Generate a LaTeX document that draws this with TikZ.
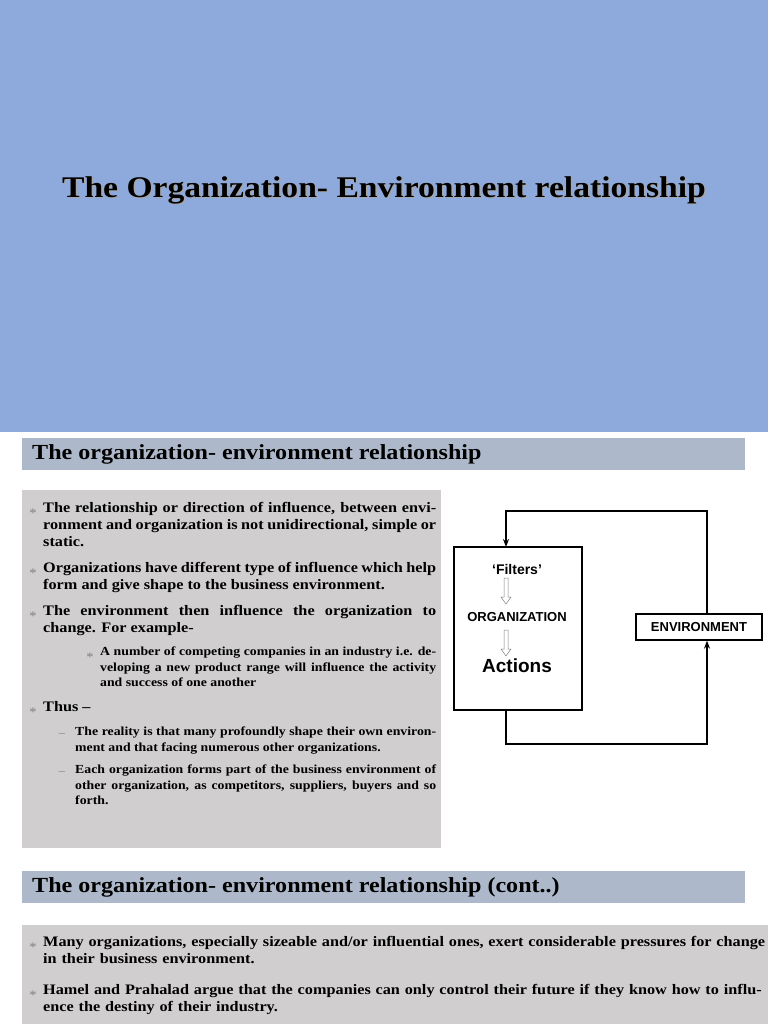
\documentclass[tikz,border=0pt]{standalone}
\usepackage{fontspec}
\setmainfont{Liberation Serif}[FakeStretch=1.12]
\setsansfont{Liberation Sans}
\usetikzlibrary{arrows.meta,shadows}
\definecolor{topblue}{HTML}{8EA9DB}
\definecolor{barblue}{HTML}{ADB9CA}
\definecolor{boxgrey}{HTML}{D0CECE}
\begin{document}
\begin{tikzpicture}[x=1pt,y=-1pt,
  txt/.style={anchor=north west,inner sep=0pt,align=justify,font=\bfseries\fontsize{14.5}{17}\selectfont},
  subtxt/.style={anchor=north west,inner sep=0pt,align=justify,font=\bfseries\fontsize{12.3}{15.5}\selectfont},
  bul/.style={inner sep=0pt,text=gray,font=\fontsize{10}{10}\selectfont},
  bartxt/.style={anchor=west,inner sep=0pt,font=\bfseries\fontsize{21.5}{24}\selectfont},
  diag/.style={draw,line width=1.3pt},
  conn/.style={line width=1.3pt},
  harrow/.style={draw=gray,fill=white,line width=0.5pt}]
\useasboundingbox (0,0) rectangle (768,1024);
\fill[white] (0,0) rectangle (768,1024);
\fill[topblue] (0,0) rectangle (768,432);
\node[inner sep=0pt,font=\bfseries\fontsize{30}{32}\selectfont,text=gray!70] at (385.5,191.5) {The Organization- Environment relationship};
\node (title) [inner sep=0pt,font=\bfseries\fontsize{30}{32}\selectfont] at (384,190) {The Organization- Environment relationship};
% bar 1
\fill[barblue] (22,438) rectangle (745,470);
\node (bar1) [bartxt] at (32,454) {The organization- environment relationship};
% grey box 1
\fill[boxgrey] (22,490) rectangle (441,848);
\node[bul] at (33,511) {\textasteriskcentered};
\node (b1) [txt,text width=393] at (43,502) {The relationship or direction of influence, between environment and organization is not unidirectional, simple or static.};
\node[bul] at (33,571) {\textasteriskcentered};
\node (b2) [txt,text width=393] at (43,562) {Organizations have different type of influence which help form and give shape to the business environment.};
\node[bul] at (33,614) {\textasteriskcentered};
\node (b3) [txt,text width=393] at (43,605) {The environment then influence the organization to change. For example-};
\node[bul] at (90,655) {\textasteriskcentered};
\node (b4) [subtxt,text width=336] at (100,647) {A number of competing companies in an industry i.e. developing a new product range will influence the activity and success of one another};
\node[bul] at (33,710) {\textasteriskcentered};
\node (b5) [txt,text width=393] at (43,701) {Thus --};
\node[inner sep=0pt,text=gray,font=\fontsize{11}{11}\selectfont] at (62,735) {--};
\node (b6) [subtxt,text width=361] at (75,727) {The reality is that many profoundly shape their own environment and that facing numerous other organizations.};
\node[inner sep=0pt,text=gray,font=\fontsize{11}{11}\selectfont] at (62,773) {--};
\node (b7) [subtxt,text width=361] at (75,765) {Each organization forms part of the business environment of other organization, as competitors, suppliers, buyers and so forth.};
% diagram
\draw[diag] (454,547) rectangle (582,710);
\node (env) [diag,minimum width=126,minimum height=26,inner sep=0pt,font=\sffamily\bfseries\fontsize{13}{13}\selectfont] at (699,627) {ENVIRONMENT};
\node (filt) [inner sep=0pt,font=\sffamily\bfseries\fontsize{14}{14}\selectfont] at (517,569) {`Filters'};
\node (orgt) [inner sep=0pt,font=\sffamily\bfseries\fontsize{13}{13}\selectfont] at (517,617) {ORGANIZATION};
\node (act) [inner sep=0pt,font=\sffamily\bfseries\fontsize{19}{19}\selectfont] at (517,666) {Actions};
\draw[harrow] (504,578) -- (508,578) -- (508,597) -- (511,597) -- (506,604) -- (501,597) -- (504,597) -- cycle;
\draw[harrow] (504,630) -- (508,630) -- (508,649) -- (511,649) -- (506,656) -- (501,649) -- (504,649) -- cycle;
\draw[conn,-{Stealth[length=8pt,width=6pt]}] (env.north -| 707,0) -- (707,511) -- (506,511) -- (506,547);
\draw[conn,-{Stealth[length=8pt,width=6pt]}] (506,710) -- (506,744) -- (707,744) -- (env.south -| 707,0);
% bar 2
\fill[barblue] (22,871) rectangle (745,903);
\node (bar2) [bartxt] at (32,887) {The organization- environment relationship (cont..)};
\fill[boxgrey] (22,925) rectangle (768,1024);
\node[bul] at (33,945) {\textasteriskcentered};
\node (c1) [txt,text width=724,align=left] at (43,936) {Many organizations, especially sizeable and/or influential ones, exert considerable pressures for change in their business environment.};
\node[bul] at (33,993) {\textasteriskcentered};
\node (c2) [txt,text width=724,align=left] at (43,984) {Hamel and Prahalad argue that the companies can only control their future if they know how to influence the destiny of their industry.};
\end{tikzpicture}
\end{document}
